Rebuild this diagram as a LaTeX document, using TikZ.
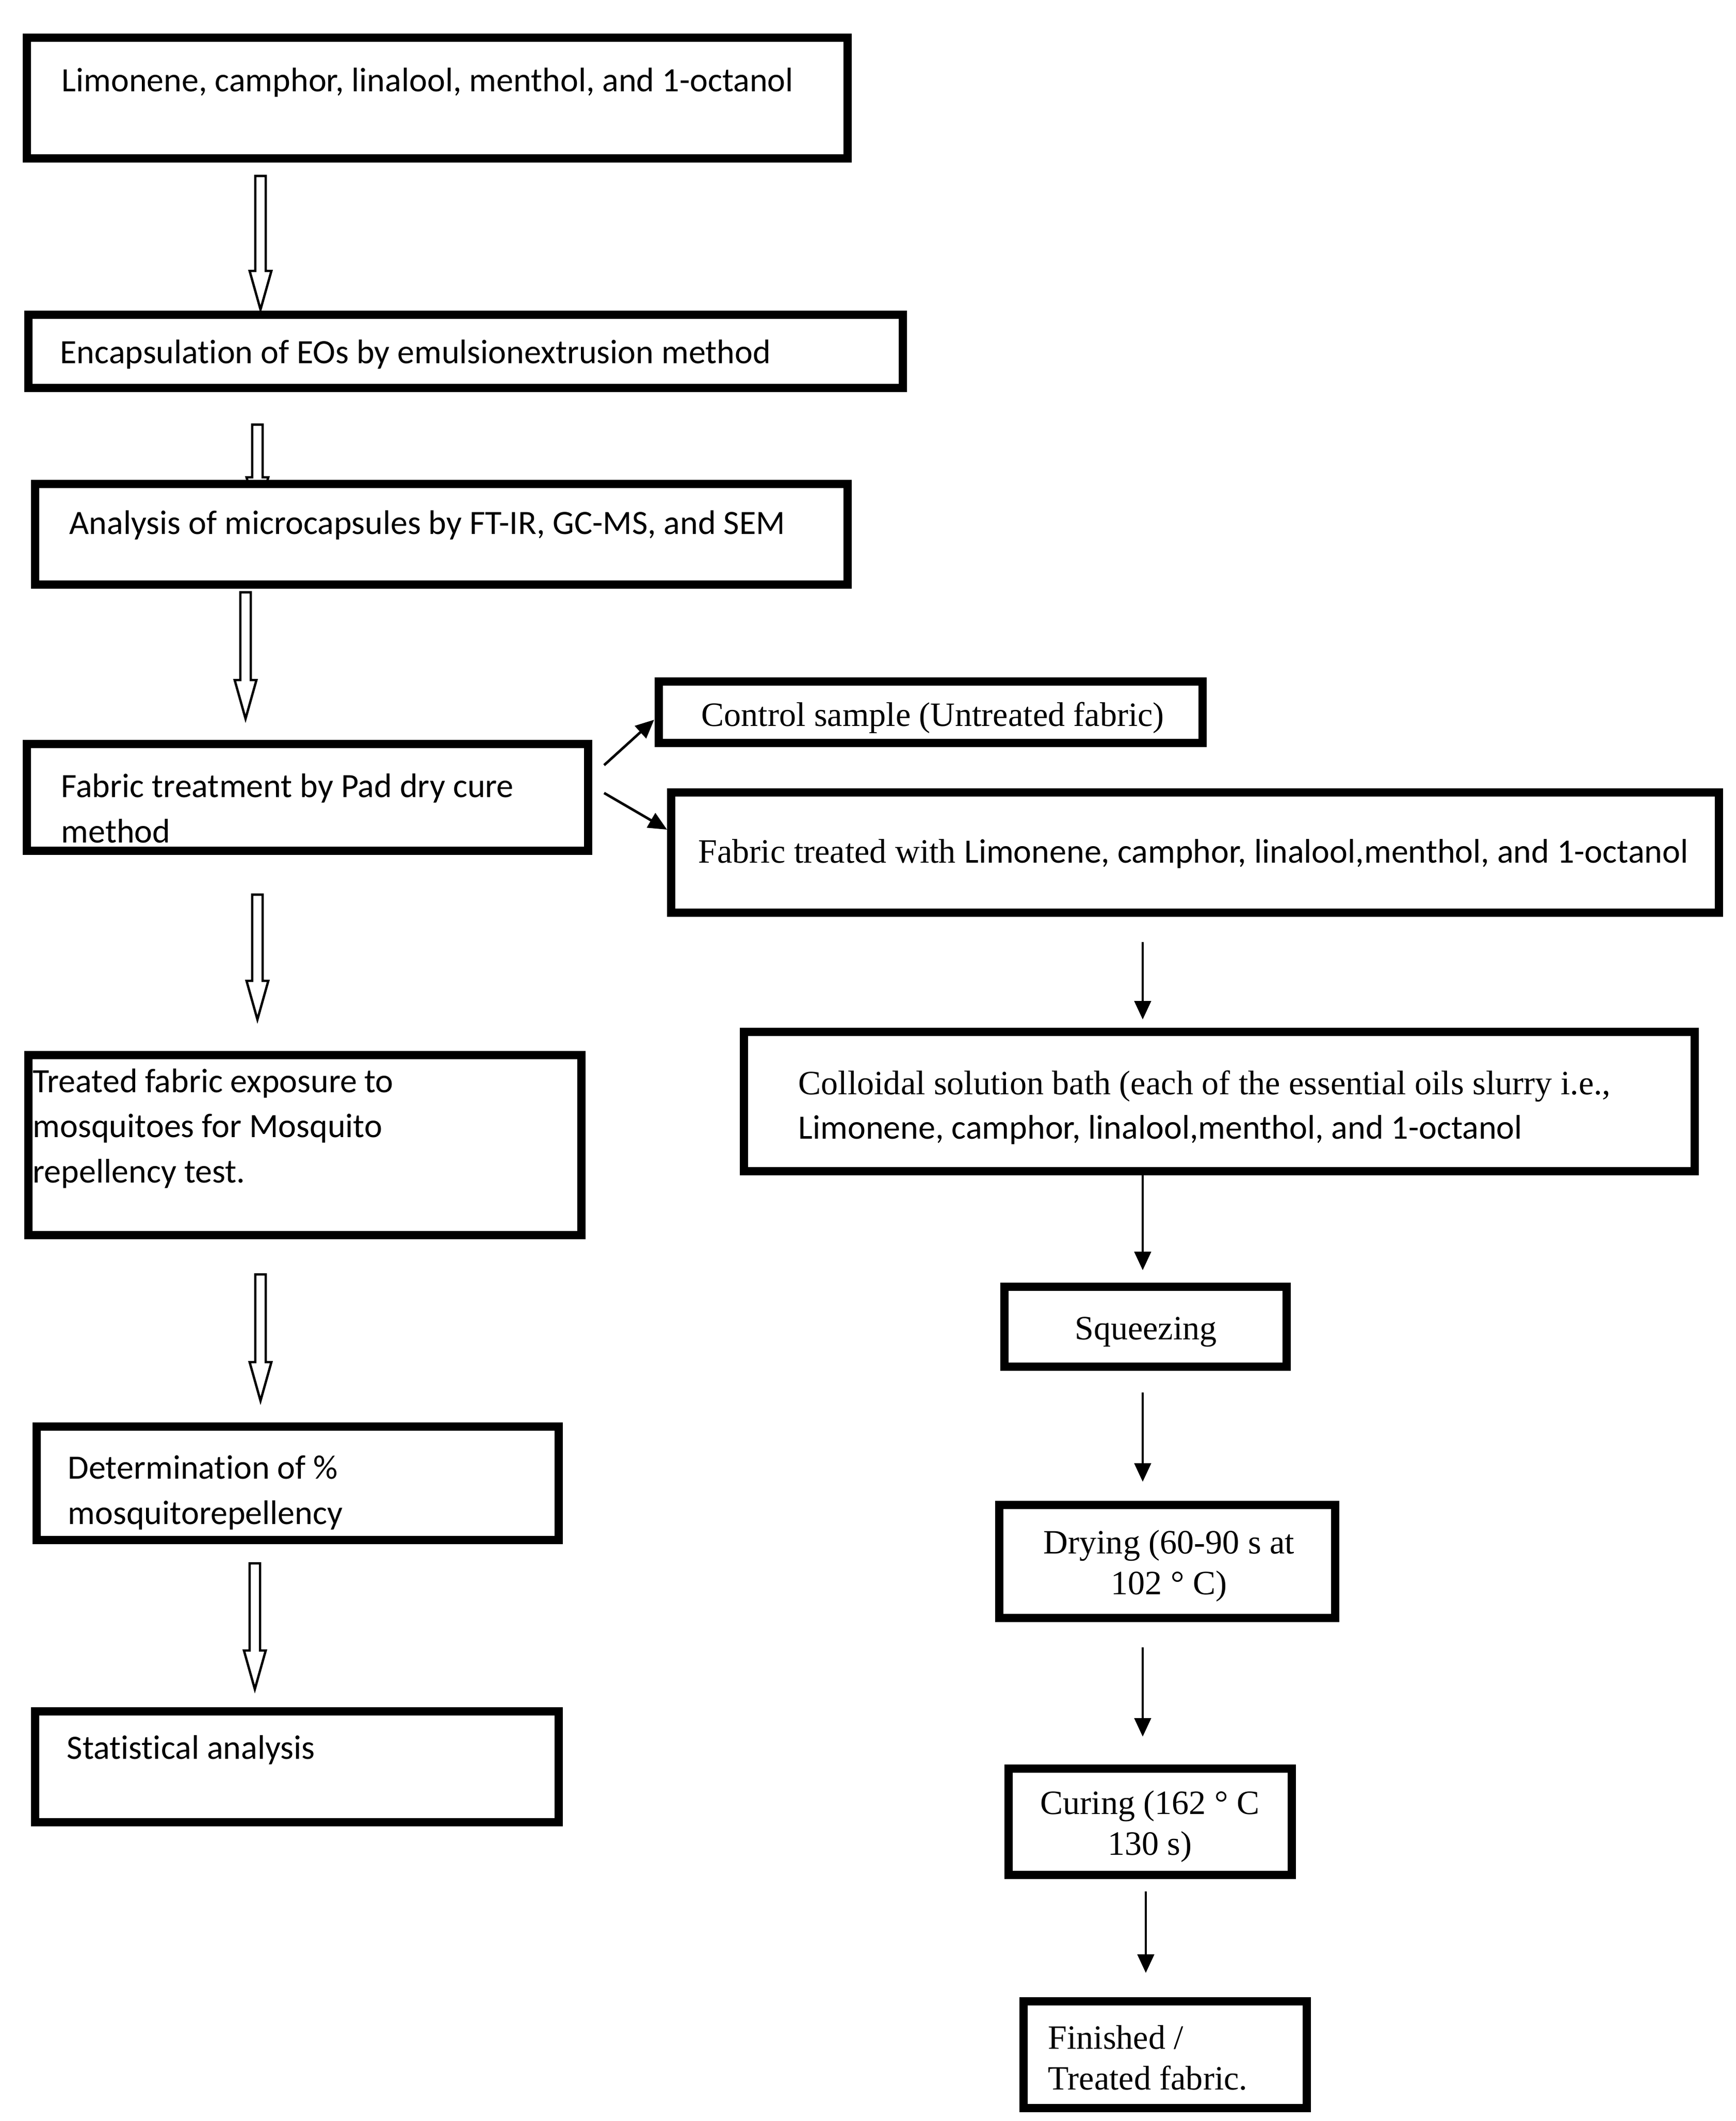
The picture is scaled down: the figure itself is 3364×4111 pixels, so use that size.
\documentclass[tikz,border=0pt]{standalone}
\usepackage{fontspec}
\setmainfont{Liberation Serif}
\newfontfamily\calibri[Ligatures=NoCommon]{Carlito}
\usetikzlibrary{arrows.meta,calc,fit}

\tikzset{
  box/.style={draw, line width=4.55pt, fill=white, inner sep=0pt},
  cal/.style={font=\calibri\fontsize{18.8}{24.8}\selectfont, anchor=base west, inner sep=0pt, align=left},
  tms/.style={font=\fontsize{18.8}{22.3}\selectfont, anchor=base west, inner sep=0pt, align=left},
  arr/.style={line width=1.4pt, -{Triangle[length=3.6mm,width=3.2mm]}},
  hollow/.style={draw, line width=1.3pt, fill=white, to path={
    let \p1=(\tikztostart), \p2=(\tikztotarget) in
    (\x1-2.9pt,\y1) -- (\x1+2.9pt,\y1) -- (\x1+2.9pt,\y2+21.3pt) -- (\x1+6pt,\y2+21.3pt)
    -- (\x2,\y2) -- (\x1-6pt,\y2+21.3pt) -- (\x1-2.9pt,\y2+21.3pt) -- cycle}}
}

\begin{document}
\begin{tikzpicture}[x=0.1mm, y=-0.1mm]
\useasboundingbox (0,0) rectangle (3364,4111);

% open arrows, left column (drawn first, the boxes cover them)
\foreach \k/\px/\ya/\yb in {1/505/341/600, 2/499/823/1000, 3/476/1148/1393,
                            4/499/1734/1976, 5/505/2470/2715, 6/494/3030/3274}{
  \coordinate (top\k) at (\px,\ya);
  \coordinate (tip\k) at (\px,\yb);
  \draw[hollow] (top\k) to (tip\k);
}

% left column
\node[box, fit={(52,73) (1643,307)}] (lim) {};
\node[box, fit={(55,610) (1750,752)}] (encap) {};
\node[box, fit={(68,938) (1643,1133)}] (analysis) {};
\node[box, fit={(52,1442) (1140,1649)}] (padtreat) {};
\node[box, fit={(55,2045) (1127,2394)}] (exposure) {};
\node[box, fit={(71,2765) (1083,2985)}] (percent) {};
\node[box, fit={(68,3317) (1083,3532)}] (stats) {};

% texts: multi-line nodes sit on the baseline of their last line
\node[cal] (limT) at (119,177) {Limonene, camphor, linalool, menthol, and 1-octanol};
\node[cal] (encapT) at (116,704) {Encapsulation of EOs by emulsionextrusion method};
\node[cal] (analysisT) at (134,1035) {Analysis of microcapsules by FT-IR, GC-MS, and SEM};
\node[cal] (padT) at (118,1633) {Fabric treatment by Pad dry cure\\method};
\node[cal] (exposureT) at (63,2292) {\makebox[69.9mm][s]{Treated fabric exposure to}\\mosquitoes for Mosquito\\repellency test.};
\node[cal] (percentT) at (131,2954) {Determination of \%\\mosquitorepellency};
\node[cal] (statsT) at (129,3409) {Statistical analysis};

% right column
\node[box, fit={(1277,1321) (2331,1440)}] (control) {};
\node[box, fit={(1301,1536) (3332,1769)}] (treated) {};
\node[box, fit={(1442,2000) (3285,2270)}] (colloid) {};
\node[box, fit={(1947,2494) (2494,2649)}] (squeeze) {};
\node[box, fit={(1937,2917) (2588,3136)}] (drying) {};
\node[box, fit={(1955,3428) (2504,3634)}] (curing) {};
\node[box, fit={(1984,3879) (2533,4086)}] (finished) {};

\node[tms] (controlT) at (1359,1407) {Control sample (Untreated fabric)};
\node[tms] (treatedT) at (1353,1672) {Fabric treated with {\calibri Limonene, camphor, linalool,menthol, and 1-octanol}};
\node[tms, font=\fontsize{18.8}{24.2}\selectfont] (colloidT) at (1547,2207)
  {Colloidal solution bath (each of the essential oils slurry i.e.,\\{\calibri Limonene, camphor, linalool,menthol, and 1-octanol}};
\node[tms, anchor=base, align=center] (squeezeT) at (2221,2596) {Squeezing};
\node[tms, anchor=base, align=center] (dryingT) at (2266,3090) {Drying (60-90 s at\\102 ° C)};
\node[tms, anchor=base, align=center] (curingT) at (2229,3595) {Curing (162 ° C\\130 s)};
\node[tms] (finishedT) at (2031,4050) {Finished /\\Treated fabric.};

% branching arrows
\coordinate (up0) at (1171,1483);
\coordinate (up1) at (1268,1395);
\coordinate (dn0) at (1171,1537);
\coordinate (dn1) at (1293,1608);
\draw[arr] (up0) -- (up1);
\draw[arr] (dn0) -- (dn1);

% thin arrows, right column
\foreach \k/\px/\ya/\yb in {1/2215/1826/1976, 2/2215/2278/2462, 3/2215/2699/2872,
                            4/2215/3193/3366, 5/2221/3666/3824}{
  \coordinate (from\k) at (\px,\ya);
  \coordinate (to\k) at (\px,\yb);
  \draw[arr] (from\k) -- (to\k);
}
\end{tikzpicture}
\end{document}
